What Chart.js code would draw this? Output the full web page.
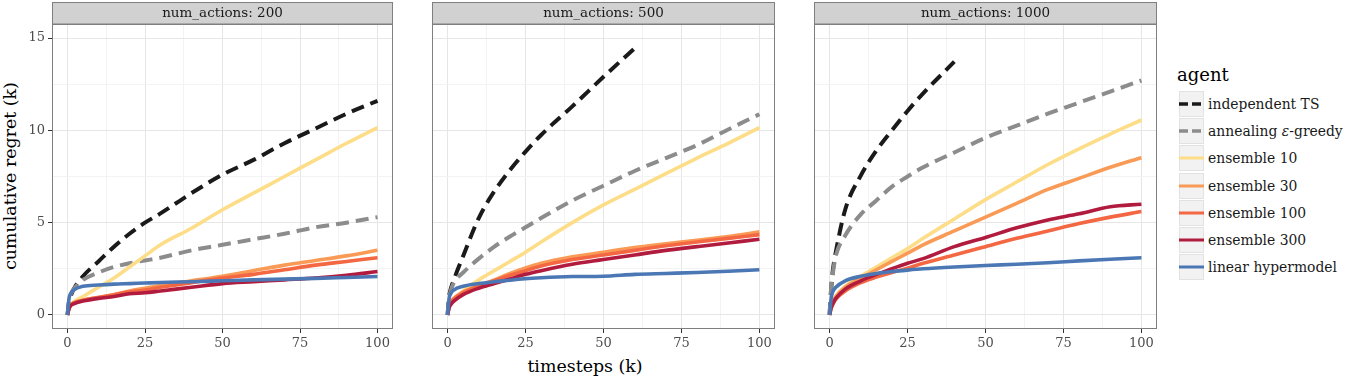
<!DOCTYPE html>
<html>
<head>
<meta charset="utf-8">
<script src="https://cdn.jsdelivr.net/npm/chart.js@4.4.0/dist/chart.umd.min.js"></script>
<style>
  body { margin: 0; background: #fff; width: 1346px; height: 376px; position: relative; overflow: hidden; font-family: "DejaVu Serif", serif; }
  canvas { position: absolute; top: 0; }
  .ytitle { position: absolute; left: 10px; top: 176px; transform: translate(-50%, -50%) rotate(-90deg); font-size: 17.4px; white-space: nowrap; color: #000; }
  .xtitle { position: absolute; left: 585px; top: 366px; transform: translate(-50%, -50%); font-size: 17.4px; white-space: nowrap; color: #000; }
  #legend { position: absolute; left: 1179px; top: 64px; }
  #legend .title { font-size: 18px; color: #000; height: 26px; margin-left: -2px; }
  #legend .row { display: flex; align-items: center; height: 27.3px; font-size: 13.9px; color: #1a1a1a; white-space: nowrap; }
  #legend svg { margin-right: 4px; flex: none; }
</style>
</head>
<body>
<div class="ytitle">cumulative regret (k)</div>
<div class="xtitle">timesteps (k)</div>
<div id="legend"></div>
<script>
// shared x grid (thousands of timesteps)
const timesteps = [0, 0.5, 1, 2, 5, 10, 15, 20, 25, 30, 40, 50, 60, 70, 80, 90, 100];
const xTickValues = [0, 12.5, 25, 37.5, 50, 62.5, 75, 87.5, 100];
const yTickValues = [0, 2.5, 5, 7.5, 10, 12.5, 15];

const agents = ["independent TS", "annealing <i>ε</i>-greedy", "ensemble 10", "ensemble 30", "ensemble 100", "ensemble 300", "linear hypermodel"];
const agentColors = ["#1a1a1a", "#8c8c8c", "#fddd87", "#f99b56", "#f46743", "#b11b3e", "#4b78b5"];
const agentDashed = [true, true, false, false, false, false, false];

// num_actions: 200
const indepTS200 = [0, 0.7, 1.0, 1.4, 2.1, 2.9, 3.7, 4.4, 5.0, 5.5, 6.6, 7.6, 8.4, 9.3, 10.1, 10.9, 11.6];
const annealing200 = [0, 0.8, 1.1, 1.4, 1.9, 2.3, 2.6, 2.8, 2.95, 3.1, 3.5, 3.8, 4.1, 4.4, 4.75, 5.0, 5.3];
const ens10_200 = [0, 0.35, 0.5, 0.7, 1.0, 1.5, 2.0, 2.6, 3.2, 3.8, 4.7, 5.7, 6.6, 7.5, 8.4, 9.3, 10.15];
const ens30_200 = [0, 0.4, 0.55, 0.65, 0.8, 0.95, 1.1, 1.3, 1.45, 1.6, 1.85, 2.1, 2.4, 2.7, 2.95, 3.2, 3.5];
const ens100_200 = [0, 0.4, 0.55, 0.65, 0.8, 0.95, 1.1, 1.25, 1.35, 1.5, 1.75, 2.0, 2.2, 2.45, 2.7, 2.9, 3.1];
const ens300_200 = [0, 0.35, 0.5, 0.6, 0.75, 0.9, 1.0, 1.15, 1.2, 1.3, 1.5, 1.7, 1.8, 1.9, 2.0, 2.15, 2.35];
const linear200 = [0, 0.9, 1.15, 1.35, 1.55, 1.62, 1.67, 1.7, 1.73, 1.76, 1.8, 1.85, 1.9, 1.94, 1.98, 2.03, 2.08];

// num_actions: 500
const indepTS500 = [0, 1.0, 1.4, 1.9, 3.2, 5.25, 6.7, 7.85, 8.85, 9.75, 11.3, 12.9, 14.45];
const annealing500 = [0, 0.9, 1.3, 1.75, 2.3, 3.05, 3.7, 4.25, 4.75, 5.25, 6.2, 7.0, 7.8, 8.5, 9.2, 10.05, 10.87];
const ens10_500 = [0, 0.45, 0.6, 0.8, 1.3, 1.9, 2.4, 2.9, 3.4, 3.95, 5.0, 5.96, 6.8, 7.65, 8.5, 9.3, 10.15];
const ens30_500 = [0, 0.5, 0.7, 0.9, 1.25, 1.6, 1.9, 2.25, 2.55, 2.8, 3.15, 3.4, 3.65, 3.85, 4.05, 4.25, 4.5];
const ens100_500 = [0, 0.45, 0.65, 0.85, 1.2, 1.55, 1.85, 2.15, 2.4, 2.65, 3.0, 3.25, 3.5, 3.75, 3.95, 4.15, 4.35];
const ens300_500 = [0, 0.4, 0.55, 0.75, 1.1, 1.45, 1.7, 1.95, 2.2, 2.4, 2.75, 3.0, 3.25, 3.5, 3.7, 3.9, 4.1];
const linear500 = [0, 0.9, 1.15, 1.35, 1.55, 1.7, 1.8, 1.88, 1.97, 2.02, 2.08, 2.1, 2.2, 2.25, 2.3, 2.37, 2.45];

// num_actions: 1000
const indepTS1000 = [0, 1.4, 2.35, 3.4, 5.7, 7.55, 8.9, 10.0, 11.05, 12.0, 13.72];
const annealing1000 = [0, 1.5, 2.2, 3.2, 4.3, 5.45, 6.2, 6.95, 7.5, 8.0, 8.8, 9.6, 10.25, 10.9, 11.5, 12.1, 12.7];
const ens10_1000 = [0, 0.5, 0.7, 1.0, 1.55, 2.1, 2.6, 3.1, 3.6, 4.15, 5.2, 6.25, 7.2, 8.15, 9.0, 9.8, 10.56];
const ens30_1000 = [0, 0.5, 0.7, 1.0, 1.5, 2.0, 2.45, 2.9, 3.35, 3.8, 4.55, 5.3, 6.05, 6.8, 7.4, 8.0, 8.52];
const ens100_1000 = [0, 0.35, 0.55, 0.85, 1.3, 1.75, 2.05, 2.3, 2.53, 2.8, 3.25, 3.7, 4.15, 4.55, 4.95, 5.3, 5.6];
const ens300_1000 = [0, 0.4, 0.6, 0.9, 1.4, 1.85, 2.2, 2.5, 2.8, 3.05, 3.7, 4.2, 4.72, 5.15, 5.48, 5.86, 6.0];
const linear1000 = [0, 0.9, 1.25, 1.5, 1.85, 2.1, 2.25, 2.35, 2.43, 2.5, 2.6, 2.68, 2.75, 2.83, 2.93, 3.02, 3.1];

const panels = [
  { n: 200, left: 52, right: 393, series: [indepTS200, annealing200, ens10_200, ens30_200, ens100_200, ens300_200, linear200] },
  { n: 500, left: 432, right: 775, series: [indepTS500, annealing500, ens10_500, ens30_500, ens100_500, ens300_500, linear500] },
  { n: 1000, left: 814, right: 1157, series: [indepTS1000, annealing1000, ens10_1000, ens30_1000, ens100_1000, ens300_1000, linear1000] },
];

Chart.defaults.font.family = "'DejaVu Serif', serif";

const AXIS_W = 52;
const PAD_R = 16;

// panel border + facet strip
function makeFrame(label) {
  return {
    id: "panelFrame",
    afterDatasetsDraw(chart) {
      const { ctx, chartArea: a } = chart;
      ctx.save();
      ctx.fillStyle = "#d1d1d1";
      ctx.fillRect(a.left, 2, a.right - a.left, 22);
      ctx.strokeStyle = "#7f7f7f";
      ctx.lineWidth = 1;
      ctx.strokeRect(a.left + 0.5, 2.5, a.right - a.left - 1, 21.5);
      ctx.strokeRect(a.left + 0.5, a.top + 0.5, a.right - a.left - 1, a.bottom - a.top - 1);
      ctx.fillStyle = "#1a1a1a";
      ctx.font = "13.5px 'DejaVu Serif', serif";
      ctx.textAlign = "center";
      ctx.textBaseline = "middle";
      ctx.fillText(label, (a.left + a.right) / 2, 13.5);
      ctx.restore();
    },
  };
}

panels.forEach((p, pi) => {
  const canvas = document.createElement("canvas");
  const w = p.right - p.left + AXIS_W + PAD_R;
  const h = 369;
  canvas.width = w;
  canvas.height = h;
  canvas.style.left = (p.left - AXIS_W) + "px";
  document.body.appendChild(canvas);

  const datasets = p.series.map((ys, i) => ({
    label: agents[i],
    data: ys.map((y, k) => ({ x: timesteps[k], y: y })),
    borderColor: agentColors[i],
    borderWidth: agentDashed[i] ? 4 : 3.6,
    borderDash: agentDashed[i] ? [13, 7] : [],
    pointRadius: 0,
    fill: false,
    cubicInterpolationMode: "monotone",
    order: agents.length - i,
  }));

  new Chart(canvas.getContext("2d"), {
    type: "line",
    data: { datasets: datasets },
    options: {
      responsive: false,
      animation: false,
      layout: { padding: { top: 24, right: PAD_R, left: 0, bottom: 0 } },
      plugins: { legend: { display: false }, tooltip: { enabled: false } },
      scales: {
        x: {
          type: "linear",
          min: -5,
          max: 105,
          afterBuildTicks: (s) => { s.ticks = xTickValues.map((v) => ({ value: v })); },
          afterFit: (s) => { s.height = 40; },
          border: { display: false },
          grid: {
            color: (c) => (c.tick && c.tick.value % 25 === 0 ? "#e6e6e6" : "#f3f3f3"),
            tickColor: (c) => (c.tick && c.tick.value % 25 === 0 ? "#333333" : "rgba(0,0,0,0)"),
            tickLength: 4,
          },
          ticks: {
            color: "#4d4d4d",
            font: { size: 13 },
            padding: 3,
            maxRotation: 0,
            autoSkip: false,
            callback: (v) => (v % 25 === 0 ? v : ""),
          },
        },
        y: {
          min: -0.76,
          max: 15.76,
          afterBuildTicks: (s) => { s.ticks = yTickValues.map((v) => ({ value: v })); },
          afterFit: (s) => { s.width = AXIS_W; },
          border: { display: false },
          grid: {
            color: (c) => (c.tick && c.tick.value % 5 === 0 ? "#e6e6e6" : "#f3f3f3"),
            tickColor: (c) => (pi === 0 && c.tick && c.tick.value % 5 === 0 ? "#333333" : "rgba(0,0,0,0)"),
            tickLength: 4,
          },
          ticks: {
            display: pi === 0,
            color: "#4d4d4d",
            font: { size: 13 },
            padding: 3,
            callback: (v) => (v % 5 === 0 ? v : ""),
          },
        },
      },
    },
    plugins: [makeFrame("num_actions: " + p.n)],
  });
});

// legend
const legend = document.getElementById("legend");
let html = '<div class="title">agent</div>';
agents.forEach((name, i) => {
  const dash = agentDashed[i] ? ' stroke-dasharray="9,4"' : "";
  html += '<div class="row"><svg width="25" height="26">' +
    '<rect x="0.5" y="0.5" width="24" height="25" fill="#f2f2f2" stroke="#e2e2e2"/>' +
    '<line x1="0" y1="13" x2="25" y2="13" stroke="' + agentColors[i] + '" stroke-width="' + (agentDashed[i] ? 3.5 : 3) + '"' + dash + "/>" +
    "</svg><span>" + name + "</span></div>";
});
legend.innerHTML = html;
</script>
</body>
</html>
